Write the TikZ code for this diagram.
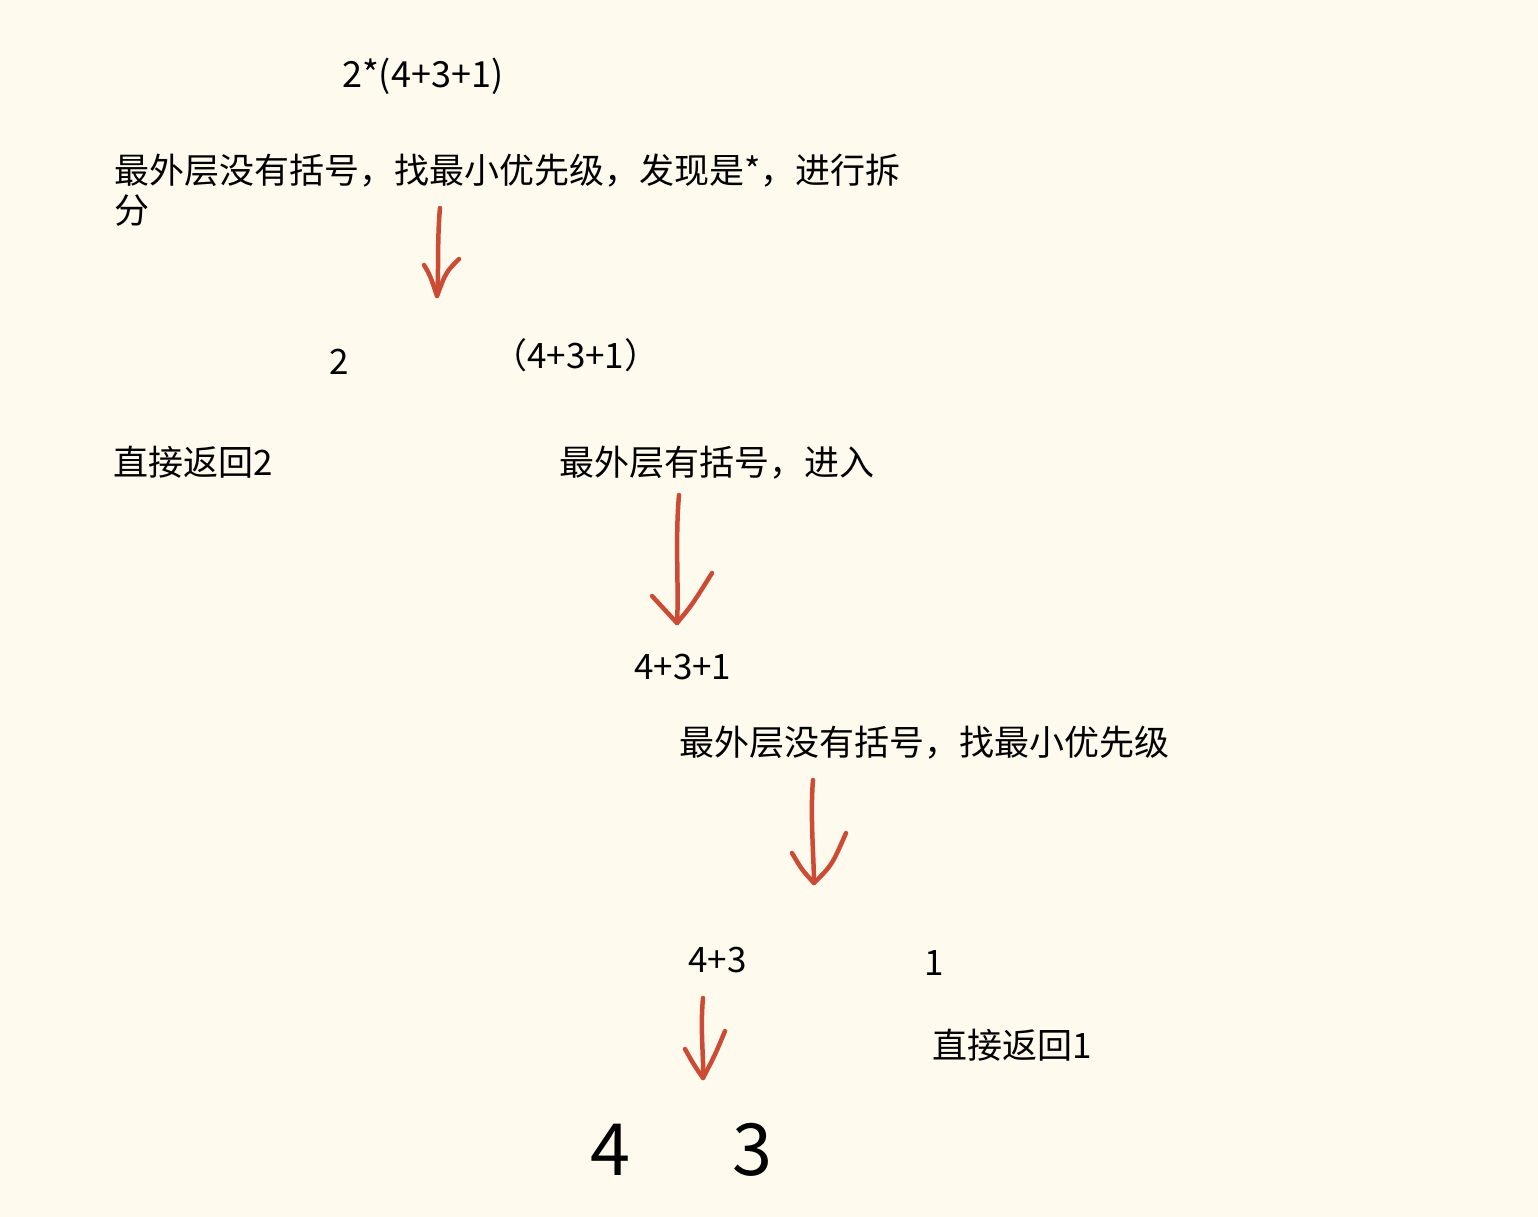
\documentclass[tikz,border=0pt]{standalone}
\usepackage{fontspec}
\setmainfont{Noto Sans CJK SC}
\usetikzlibrary{calc}

\definecolor{paper}{HTML}{FEFAEE}
\definecolor{pen}{HTML}{CC4B34}

\tikzset{
  note/.style={anchor=west, inner sep=0pt, font=\fontsize{35}{40}\selectfont},
  hand/.style={anchor=center, inner sep=0pt, font=\fontsize{72}{72}\selectfont},
  penline/.style={draw=pen, line width=4.5pt, line cap=round, line join=round},
}

\begin{document}
\begin{tikzpicture}[x=1pt, y=-1pt]

  % Canvas (pixel units, y pointing down)
  \def\W{1538}
  \def\H{1217}
  \fill[paper] (0,0) rectangle (\W,\H);
  \useasboundingbox (0,0) rectangle (\W,\H);

  % Expressions and notes
  \node[note, font=\fontsize{36}{40}\selectfont] (expr) at (342,76) {2*(4+3+1)};
  \node[note, align=left, anchor=north west] (split) at (114,154)
    {最外层没有括号，找最小优先级，发现是*，进行拆\\分};

  \node[note] (two) at (329,362) {2};
  \node[note] (paren) at (492,355) {（4+3+1）};
  \node[note] (ret2) at (113,462) {直接返回2};
  \node[note] (enter) at (559,463) {最外层有括号，进入};

  \node[note] (inner) at (634,667) {4+3+1};
  \node[note] (lowest) at (679,743) {最外层没有括号，找最小优先级};

  \node[note] (left) at (688,960) {4+3};
  \node[note] (one) at (924,963) {1};
  \node[note] (ret1) at (932,1045) {直接返回1};

  % Hand-written leaves
  \node[hand] (four) at (610,1150) {4};
  \node[hand] (three) at (752,1150) {3};

  % Arrow 1: split the product
  \coordinate (a1top) at (440,208);
  \coordinate (a1tip) at (437,296);
  \draw[penline] (a1top) .. controls (437,240) and (439,270) .. (a1tip);
  \draw[penline] (424,265) .. controls (430,275) .. (a1tip)
                 .. controls (446,272) .. (459,259);

  % Arrow 2: enter the brackets
  \coordinate (a2top) at (679,495);
  \coordinate (a2tip) at (677,623);
  \draw[penline] (a2top) .. controls (675,540) and (679,590) .. (a2tip);
  \draw[penline] (652,596) .. controls (665,610) .. (a2tip)
                 .. controls (692,605) .. (712,573);

  % Arrow 3: split the sum
  \coordinate (a3top) at (813,780);
  \coordinate (a3tip) at (814,883);
  \draw[penline] (a3top) .. controls (810,815) and (814,860) .. (a3tip);
  \draw[penline] (792,853) .. controls (802,870) .. (a3tip)
                 .. controls (832,865) .. (846,833);

  % Arrow 4: split 4+3
  \coordinate (a4top) at (703,998);
  \coordinate (a4tip) at (703,1078);
  \draw[penline] (a4top) .. controls (700,1030) and (704,1060) .. (a4tip);
  \draw[penline] (685,1049) .. controls (694,1065) .. (a4tip)
                 .. controls (715,1055) .. (725,1031);

\end{tikzpicture}
\end{document}
